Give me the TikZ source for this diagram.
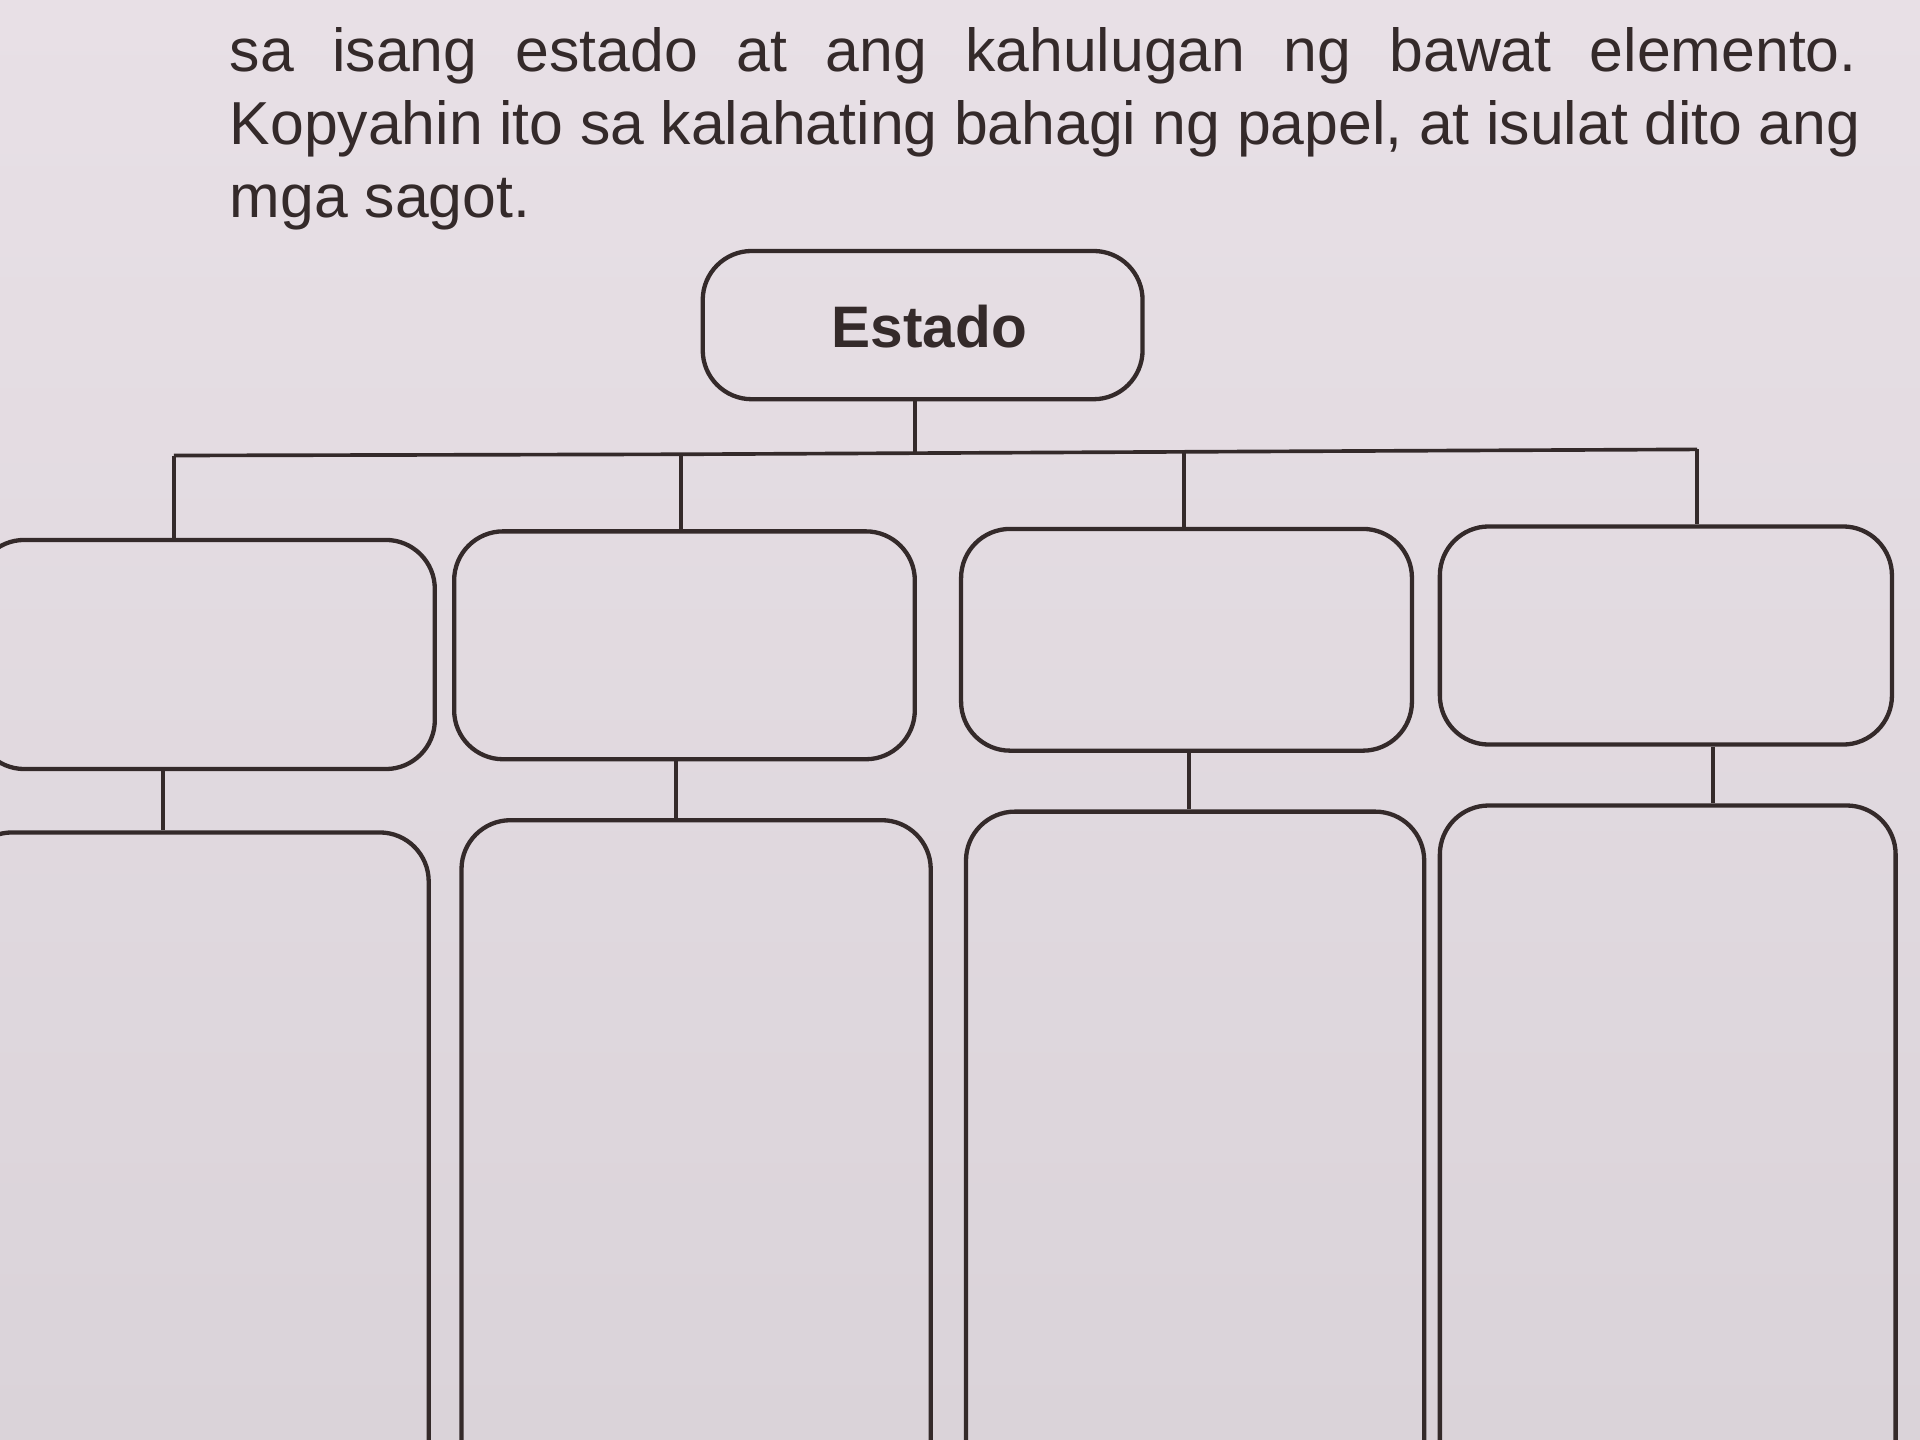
\documentclass[tikz,border=0pt]{standalone}
\usepackage{fontspec}
\setmainfont{Liberation Sans}
\definecolor{paperTop}{RGB}{232,224,230}
\definecolor{paperBot}{RGB}{218,211,217}
\definecolor{ink}{RGB}{52,42,42}
\begin{document}
\begin{tikzpicture}[x=0.01cm,y=-0.01cm,
  box/.style={draw=ink,line width=1pt,rounded corners=0.4cm,inner sep=0pt},
  link/.style={draw=ink,line width=0.85pt},
  bodytext/.style={anchor=base west,inner sep=0pt,text=ink,font=\fontsize{14.1pt}{17pt}\selectfont}]
\useasboundingbox (0,0) rectangle (1568,1176);
\shade[top color=paperTop,bottom color=paperBot] (0,0) rectangle (1568,1176);
\clip (0,0) rectangle (1568,1176);
% text
\node[bodytext] (l1) at (187,58) {\makebox[13.28cm][s]{sa isang estado at ang kahulugan ng bawat elemento.}};
\node[bodytext] (l2) at (187,118) {\makebox[13.31cm][s]{Kopyahin ito sa kalahating bahagi ng papel, at isulat dito ang}};
\node[bodytext] (l3) at (187,178) {mga sagot.};
% top box
\node[box,minimum width=3.59cm,minimum height=1.21cm] (e) at (753.5,265.5) {};
\node[inner sep=0pt,font=\fontsize{13.6pt}{16pt}\selectfont\bfseries,text=ink] (et) at (759,267) {Estado};
% row 2
\node[box,minimum width=3.75cm,minimum height=1.87cm] (b1) at (167.5,534.5) {};
\node[box,minimum width=3.76cm,minimum height=1.86cm] (b2) at (559,527) {};
\node[box,minimum width=3.68cm,minimum height=1.81cm] (b3) at (969,522.5) {};
\node[box,minimum width=3.69cm,minimum height=1.78cm] (b4) at (1360.5,519) {};
% row 3
\node[box,minimum width=3.80cm,minimum height=5.80cm] (c1) at (160,970) {};
\node[box,minimum width=3.83cm,minimum height=5.90cm] (c2) at (568.5,965) {};
\node[box,minimum width=3.74cm,minimum height=5.97cm] (c3) at (976,961.5) {};
\node[box,minimum width=3.72cm,minimum height=6.02cm] (c4) at (1362,959) {};
% connectors
\coordinate (s0) at (747,370);
\coordinate (d1) at (142,372);
\coordinate (d2) at (556,371);
\coordinate (d3) at (967,369);
\coordinate (d4) at (1386,367);
\draw[link] (e.south -| s0) -- (s0);
\draw[link] (d1) -- (d2) -- (d3) -- (d4);
\draw[link] (d1) -- (d1 |- b1.north);
\draw[link] (d2) -- (d2 |- b2.north);
\draw[link] (d3) -- (d3 |- b3.north);
\draw[link] (d4) -- (d4 |- b4.north);
\coordinate (t1) at (133,650);
\coordinate (t2) at (552,645);
\coordinate (t3) at (971,640);
\coordinate (t4) at (1399,635);
\draw[link] (b1.south -| t1) -- (c1.north -| t1);
\draw[link] (b2.south -| t2) -- (c2.north -| t2);
\draw[link] (b3.south -| t3) -- (c3.north -| t3);
\draw[link] (b4.south -| t4) -- (c4.north -| t4);
\end{tikzpicture}
\end{document}
